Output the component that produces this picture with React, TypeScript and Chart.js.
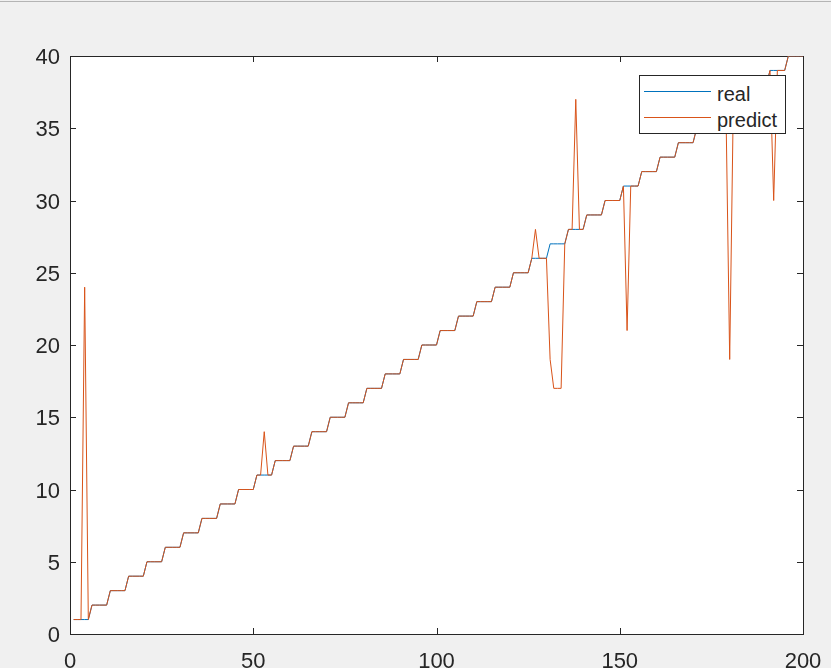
import React, { useEffect, useRef } from "react";
import { Chart, registerables } from "chart.js";

Chart.register(...registerables);

// Sample values (x = sample number 1..200)
const realValues: number[] = [
  1, 1, 1, 1, 1, 2, 2, 2, 2, 2,
  3, 3, 3, 3, 3, 4, 4, 4, 4, 4,
  5, 5, 5, 5, 5, 6, 6, 6, 6, 6,
  7, 7, 7, 7, 7, 8, 8, 8, 8, 8,
  9, 9, 9, 9, 9, 10, 10, 10, 10, 10,
  11, 11, 11, 11, 11, 12, 12, 12, 12, 12,
  13, 13, 13, 13, 13, 14, 14, 14, 14, 14,
  15, 15, 15, 15, 15, 16, 16, 16, 16, 16,
  17, 17, 17, 17, 17, 18, 18, 18, 18, 18,
  19, 19, 19, 19, 19, 20, 20, 20, 20, 20,
  21, 21, 21, 21, 21, 22, 22, 22, 22, 22,
  23, 23, 23, 23, 23, 24, 24, 24, 24, 24,
  25, 25, 25, 25, 25, 26, 26, 26, 26, 26,
  27, 27, 27, 27, 27, 28, 28, 28, 28, 28,
  29, 29, 29, 29, 29, 30, 30, 30, 30, 30,
  31, 31, 31, 31, 31, 32, 32, 32, 32, 32,
  33, 33, 33, 33, 33, 34, 34, 34, 34, 34,
  35, 35, 35, 35, 35, 36, 36, 36, 36, 36,
  37, 37, 37, 37, 37, 38, 38, 38, 38, 38,
  39, 39, 39, 39, 39, 40, 40, 40, 40, 40,
];

const predictValues: number[] = [
  1, 1, 1, 24, 1, 2, 2, 2, 2, 2,
  3, 3, 3, 3, 3, 4, 4, 4, 4, 4,
  5, 5, 5, 5, 5, 6, 6, 6, 6, 6,
  7, 7, 7, 7, 7, 8, 8, 8, 8, 8,
  9, 9, 9, 9, 9, 10, 10, 10, 10, 10,
  11, 11, 14, 11, 11, 12, 12, 12, 12, 12,
  13, 13, 13, 13, 13, 14, 14, 14, 14, 14,
  15, 15, 15, 15, 15, 16, 16, 16, 16, 16,
  17, 17, 17, 17, 17, 18, 18, 18, 18, 18,
  19, 19, 19, 19, 19, 20, 20, 20, 20, 20,
  21, 21, 21, 21, 21, 22, 22, 22, 22, 22,
  23, 23, 23, 23, 23, 24, 24, 24, 24, 24,
  25, 25, 25, 25, 25, 26, 28, 26, 26, 26,
  19, 17, 17, 17, 27, 28, 28, 37, 28, 28,
  29, 29, 29, 29, 29, 30, 30, 30, 30, 30,
  31, 21, 31, 31, 31, 32, 32, 32, 32, 32,
  33, 33, 33, 33, 33, 34, 34, 34, 34, 34,
  35, 35, 35, 35, 35, 36, 36, 36, 36, 19,
  37, 37, 37, 37, 37, 38, 38, 38, 38, 38,
  39, 30, 39, 39, 39, 40, 40, 40, 40, 40,
];

const seriesLabels = ["real", "predict"];
const seriesColors = ["#0072BD", "#D95319"];
const xTicks = [0, 50, 100, 150, 200];
const yTicks = [0, 5, 10, 15, 20, 25, 30, 35, 40];

const FONT = "'Liberation Sans', Arial, Helvetica, sans-serif";
const AXIS_COLOR = "#262626";

const framePlugin = {
  id: "matlabFrame",
  beforeDatasetsDraw(chart: any) {
    const { ctx, chartArea, scales } = chart;
    const { left, top, right, bottom } = chartArea;
    ctx.save();
    ctx.fillStyle = "#ffffff";
    ctx.fillRect(left, top, right - left, bottom - top);
    ctx.strokeStyle = AXIS_COLOR;
    ctx.lineWidth = 1;
    ctx.strokeRect(left + 0.5, top + 0.5, right - left, bottom - top);
    const tl = 6;
    ctx.beginPath();
    for (const v of xTicks) {
      const px = Math.round(scales.x.getPixelForValue(v)) + 0.5;
      ctx.moveTo(px, bottom);
      ctx.lineTo(px, bottom - tl);
      ctx.moveTo(px, top);
      ctx.lineTo(px, top + tl);
    }
    for (const v of yTicks) {
      const py = Math.round(scales.y.getPixelForValue(v)) + 0.5;
      ctx.moveTo(left, py);
      ctx.lineTo(left + tl, py);
      ctx.moveTo(right, py);
      ctx.lineTo(right - tl, py);
    }
    ctx.stroke();
    ctx.restore();
  },
};

function Legend() {
  const rowLine = [91, 117];
  const rowText = [84, 110];
  return (
    <>
      <div
        style={{
          position: "absolute",
          left: 639,
          top: 75,
          width: 147,
          height: 59,
          boxSizing: "border-box",
          border: `1px solid ${AXIS_COLOR}`,
          background: "#ffffff",
        }}
      />
      {seriesLabels.map((label, i) => (
        <React.Fragment key={label}>
          <div
            style={{
              position: "absolute",
              left: 644,
              top: rowLine[i],
              width: 67,
              height: 1,
              background: seriesColors[i],
            }}
          />
          <span
            style={{
              position: "absolute",
              left: 717,
              top: rowText[i],
              fontFamily: FONT,
              fontSize: 20,
              lineHeight: "20px",
              color: AXIS_COLOR,
              whiteSpace: "nowrap",
            }}
          >
            {label}
          </span>
        </React.Fragment>
      ))}
    </>
  );
}

export default function App() {
  const canvasRef = useRef<HTMLCanvasElement | null>(null);

  useEffect(() => {
    if (!canvasRef.current) return;
    const toPoints = (arr: number[]) => arr.map((v, i) => ({ x: i + 1, y: v }));
    const chart = new Chart(canvasRef.current, {
      type: "line",
      data: {
        datasets: [
          {
            label: seriesLabels[0],
            data: toPoints(realValues),
            borderColor: seriesColors[0],
            backgroundColor: seriesColors[0],
            borderWidth: 1,
            pointRadius: 0,
            tension: 0,
            order: 1,
          },
          {
            label: seriesLabels[1],
            data: toPoints(predictValues),
            borderColor: seriesColors[1],
            backgroundColor: seriesColors[1],
            borderWidth: 1,
            pointRadius: 0,
            tension: 0,
            order: 0,
          },
        ],
      },
      options: {
        animation: false,
        responsive: false,
        maintainAspectRatio: false,
        events: [],
        layout: { padding: { top: 56, right: 28, left: 0, bottom: 0 } },
        plugins: {
          legend: { display: false },
          tooltip: { enabled: false },
        },
        scales: {
          x: {
            type: "linear",
            min: 0,
            max: 200,
            afterBuildTicks: (s: any) => {
              s.ticks = xTicks.map((v) => ({ value: v }));
            },
            ticks: {
              font: { family: FONT, size: 22 },
              color: AXIS_COLOR,
              padding: 15,
              maxRotation: 0,
              autoSkip: false,
            },
            grid: { display: false, drawTicks: false },
            border: { display: false },
            afterFit: (s: any) => {
              s.height = 34;
              s.paddingLeft = 0;
              s.paddingRight = 0;
            },
          },
          y: {
            type: "linear",
            min: 0,
            max: 40,
            afterBuildTicks: (s: any) => {
              s.ticks = yTicks.map((v) => ({ value: v }));
            },
            ticks: {
              font: { family: FONT, size: 22 },
              color: AXIS_COLOR,
              padding: 10,
              labelOffset: 2,
              autoSkip: false,
            },
            grid: { display: false, drawTicks: false },
            border: { display: false },
            afterFit: (s: any) => {
              s.width = 70;
              s.paddingTop = 0;
              s.paddingBottom = 0;
            },
          },
        },
      },
      plugins: [framePlugin],
    } as any);
    return () => chart.destroy();
  }, []);

  return (
    <div
      style={{
        position: "fixed",
        left: 0,
        top: 0,
        width: 831,
        height: 668,
        background: "#f0f0f0",
        overflow: "hidden",
      }}
    >
      <div
        style={{
          position: "absolute",
          left: 0,
          top: 1,
          width: 831,
          height: 1,
          background: "#b4b4b4",
        }}
      />
      <canvas
        ref={canvasRef}
        width={831}
        height={668}
        style={{ display: "block", width: 831, height: 668 }}
      />
      <Legend />
    </div>
  );
}
